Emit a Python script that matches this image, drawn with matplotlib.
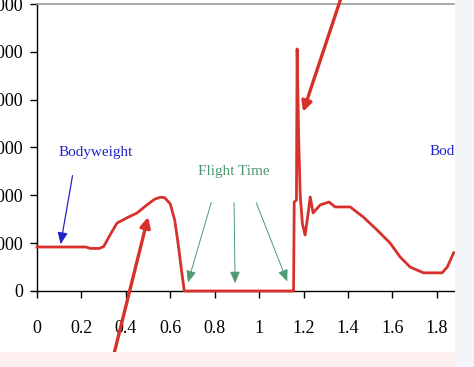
import matplotlib

matplotlib.use("Agg")
import matplotlib.pyplot as plt
from matplotlib.patches import Rectangle

# force-time trace of a countermovement jump (time in s, force in N)
time_s = [0.00, 0.10, 0.22, 0.24, 0.28, 0.30, 0.33, 0.36, 0.405, 0.45, 0.495,
          0.53, 0.555, 0.575, 0.60, 0.62, 0.635, 0.65, 0.663, 0.90, 1.155,
          1.158, 1.168, 1.171, 1.178, 1.185, 1.195, 1.207, 1.22, 1.23, 1.243,
          1.275, 1.315, 1.342, 1.41, 1.468, 1.53, 1.59, 1.635, 1.68, 1.74,
          1.80, 1.824, 1.847, 1.876]
force_n = [920, 920, 920, 890, 890, 930, 1180, 1420, 1530, 1630, 1800,
           1920, 1960, 1950, 1820, 1480, 1000, 450, 0, 0, 0,
           1860, 1900, 5060, 3200, 2000, 1400, 1170, 1600, 1967, 1632,
           1800, 1860, 1757, 1757, 1550, 1280, 1000, 710, 500, 380,
           380, 380, 500, 800]

x_ticks = [0, 0.2, 0.4, 0.6, 0.8, 1.0, 1.2, 1.4, 1.6, 1.8]
x_labels = ["0", "0.2", "0.4", "0.6", "0.8", "1", "1.2", "1.4", "1.6", "1.8"]
y_ticks = [0, 1000, 2000, 3000, 4000, 5000, 6000]
y_labels = ["0", "1000", "2000", "3000", "4000", "5000", "6000"]

SERIF = "Liberation Serif"
RED = "#d8312b"
BLUE = "#2222c8"
GREEN = "#4f9a72"

fig = plt.figure(figsize=(4.74, 3.67), dpi=100)
fig.patch.set_facecolor("white")
ax = fig.add_axes([0.0781, 0.2071, 0.88, 0.782])

ax.plot(time_s, force_n, color=RED, linewidth=2.0, solid_joinstyle="round",
        zorder=3, clip_on=False)

ax.set_xlim(0, 1.878)
ax.set_ylim(0, 6000)
ax.set_xticks(x_ticks)
ax.set_xticklabels(x_labels)
ax.set_yticks(y_ticks)
ax.set_yticklabels(y_labels)
for lab in ax.get_xticklabels() + ax.get_yticklabels():
    lab.set_fontfamily(SERIF)
    lab.set_fontsize(13)
ax.tick_params(axis="x", direction="out", length=5, width=1, pad=16)
ax.tick_params(axis="y", direction="out", length=5, width=1, pad=5)

ax.spines["right"].set_visible(False)
ax.spines["top"].set_color("#9a9a9a")
ax.spines["top"].set_linewidth(1.2)
for side in ("left", "bottom"):
    ax.spines[side].set_color("black")
    ax.spines[side].set_linewidth(1.0)

# annotations
ax.text(0.266, 2887, "Bodyweight", color=BLUE, fontsize=11, family=SERIF,
        ha="center", va="center")
ax.annotate("", xy=(0.104, 920), xytext=(0.162, 2469),
            arrowprops=dict(arrowstyle="-|>,head_length=0.7,head_width=0.3",
                            color=BLUE, lw=0.9))
ax.text(1.766, 2908, "Bod", color=BLUE, fontsize=11, family=SERIF,
        ha="left", va="center", clip_on=True)

ax.text(0.887, 2490, "Flight Time", color=GREEN, fontsize=11, family=SERIF,
        ha="center", va="center")
flight_tails = [(0.788, 1904), (0.887, 1904), (0.982, 1904)]
flight_heads = [(0.676, 126), (0.892, 105), (1.131, 146)]
for tail, head in zip(flight_tails, flight_heads):
    ax.annotate("", xy=head, xytext=tail,
                arrowprops=dict(arrowstyle="-|>,head_length=0.7,head_width=0.3",
                                color=GREEN, lw=0.7))

red_arrow = dict(arrowstyle="-|>,head_length=0.6,head_width=0.3",
                 color=RED, lw=2.4, shrinkA=0, shrinkB=0)
ax.annotate("", xy=(1.198, 3745), xytext=(1.374, 6200),
            arrowprops=red_arrow, annotation_clip=False)
ax.annotate("", xy=(0.50, 1548), xytext=(0.342, -1400),
            arrowprops=red_arrow, annotation_clip=False)

# page background pieces around the cropped chart
fig.patches.append(Rectangle((0, 0), 455 / 474, 15 / 367, transform=fig.transFigure,
                             facecolor="#fdefef", edgecolor="none", zorder=5))
fig.patches.append(Rectangle((455 / 474, 0), 19 / 474, 1, transform=fig.transFigure,
                             facecolor="#f3f5f9", edgecolor="none", zorder=5))

fig.savefig("out.png", dpi=100)
